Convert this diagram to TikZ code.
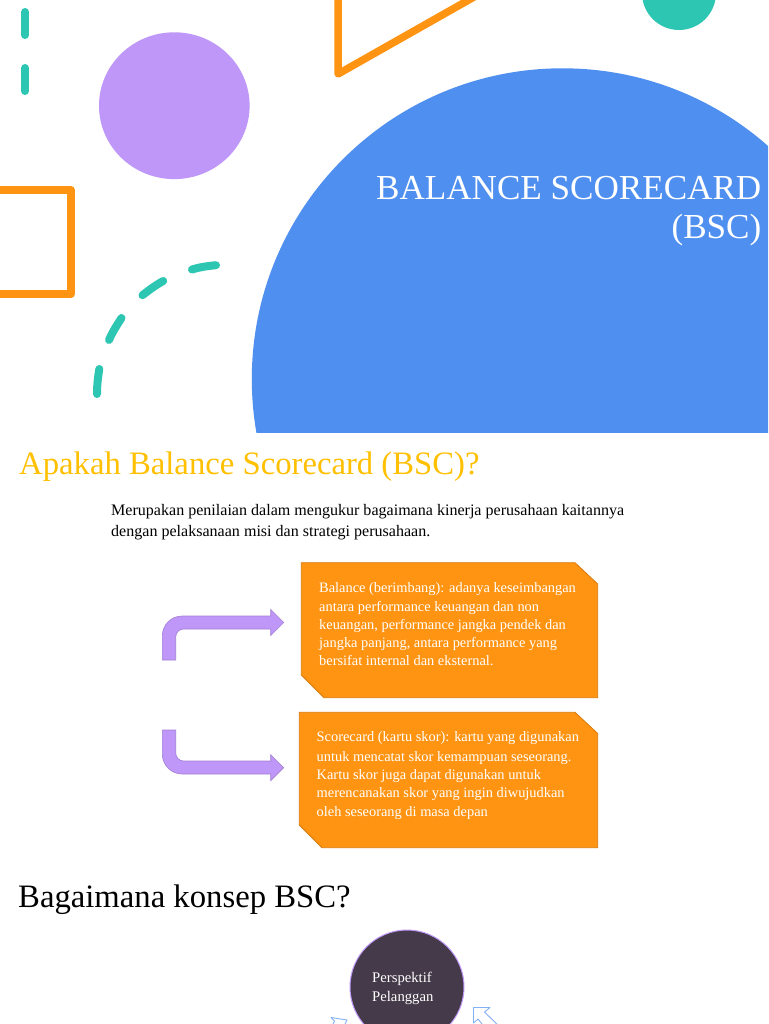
\documentclass[tikz,border=0pt]{standalone}
\usepackage{fontspec}
\setmainfont{Liberation Serif}
\definecolor{teal1}{HTML}{2CC6B2}
\definecolor{orange1}{HTML}{FF9412}
\definecolor{purple1}{HTML}{BF97F8}
\definecolor{blue1}{HTML}{4F8FF0}
\definecolor{dark1}{HTML}{453A49}
\definecolor{gold1}{HTML}{FFC000}
\definecolor{edge1}{HTML}{D9790A}
\tikzset{
  tealdash/.style={draw=teal1,line width=8pt,line cap=round},
  orangeline/.style={draw=orange1,line width=7.5pt,line join=round},
  purplearrow/.style={fill=purple1,draw=purple1!85!black,line width=.6pt},
  orangebox/.style={fill=orange1,draw=edge1,line width=.8pt},
  linetext/.style={anchor=base west,inner sep=0pt},
  boxtext/.style={linetext,text=white,font=\fontsize{14.4}{18}\selectfont},
  introtext/.style={linetext,font=\fontsize{16.05}{20}\selectfont},
  titletext/.style={anchor=base east,inner sep=0pt,text=white,font=\fontsize{35.1}{40}\selectfont},
  headtext/.style={linetext,font=\fontsize{32.7}{38}\selectfont},
  circletext/.style={linetext,text=white,font=\fontsize{14.7}{18}\selectfont},
  bluearrow/.style={draw=blue1!70!white,line width=.9pt,fill=white,line join=round},
}
\begin{document}
\begin{tikzpicture}[x=1pt,y=-1pt]
\useasboundingbox (0,0) rectangle (768,1024);
\fill[white] (0,0) rectangle (768,1024);
\begin{scope}
\clip (0,0) rectangle (768,432);
\fill[blue1] (562.5,379) circle[radius=310.7];
\fill[teal1] (679,-7) circle[radius=37];
\fill[purple1] (174.3,105.7) ellipse[x radius=75.3,y radius=73.4];
\draw[orangeline] (338,-5) -- (338,74) -- (477.5,-5);
\draw[orangeline] (-6,190) -- (71,190) -- (71,294) -- (-6,294);
\draw[tealdash] (25,12) -- (25,35);
\draw[tealdash] (25,68) -- (25,91);
\draw[tealdash] (192,269.5) .. controls (200,267) and (208,266) .. (216,265.2);
\draw[tealdash] (142.5,295.2) .. controls (149,290) and (156,285) .. (163.2,281);
\draw[tealdash] (109,340) .. controls (112.5,332) and (117,325) .. (121.5,318);
\draw[tealdash] (97,394) .. controls (97,385) and (98,377) .. (99.3,369);
\end{scope}
\node[titletext] (t1) at (761.5,200) {BALANCE SCORECARD};
\node[titletext] (t2) at (761.5,238) {(BSC)};
\node[headtext,text=gold1] (h1) at (19,474) {Apakah Balance Scorecard (BSC)?};
\node[introtext] (i1) at (111,515) {Merupakan penilaian dalam mengukur bagaimana kinerja perusahaan kaitannya};
\node[introtext] (i2) at (111,536) {dengan pelaksanaan misi dan strategi perusahaan.};
\draw[purplearrow] (162.3,660) -- (162.3,636) .. controls (162.3,625) and (171,616) .. (182.3,616) -- (270.7,616) -- (270.7,609.5) -- (283.7,622.5) -- (270.7,635.5) -- (270.7,629) -- (183.7,629) .. controls (179.3,629) and (175.7,632.6) .. (175.7,637) -- (175.7,660) -- cycle;
\draw[purplearrow] (162.3,730) -- (162.3,754) .. controls (162.3,765) and (171,774) .. (182.3,774) -- (270.7,774) -- (270.7,780.7) -- (283.7,767.7) -- (270.7,754.7) -- (270.7,761) -- (183.7,761) .. controls (179.3,761) and (175.7,757.4) .. (175.7,753) -- (175.7,730) -- cycle;
\draw[orangebox] (301.3,562.7) -- (575,562.7) -- (597.7,584) -- (597.7,697.7) -- (324,697.7) -- (301.3,675) -- cycle;
\draw[orangebox] (299.3,712.3) -- (575,712.3) -- (597.7,733.5) -- (597.7,847.7) -- (322,847.7) -- (299.3,825) -- cycle;
\node[boxtext] (a1) at (319,592) {Balance (berimbang): adanya keseimbangan};
\node[boxtext] (a2) at (319,611) {antara performance keuangan dan non};
\node[boxtext] (a3) at (319,629) {keuangan, performance jangka pendek dan};
\node[boxtext] (a4) at (319,647) {jangka panjang, antara performance yang};
\node[boxtext] (a5) at (319,665.5) {bersifat internal dan eksternal.};
\node[boxtext] (b1) at (316.5,741.5) {Scorecard (kartu skor): kartu yang digunakan};
\node[boxtext] (b2) at (316.5,761) {untuk mencatat skor kemampuan seseorang.};
\node[boxtext] (b3) at (316.5,779) {Kartu skor juga dapat digunakan untuk};
\node[boxtext] (b4) at (316.5,797) {merencanakan skor yang ingin diwujudkan};
\node[boxtext] (b5) at (316.5,816) {oleh seseorang di masa depan};
\node[headtext] (h2) at (18,907) {Bagaimana konsep BSC?};
\begin{scope}
\clip (0,900) rectangle (768,1024);
\fill[dark1,draw=purple1,line width=1pt] (407,987) circle[radius=57];
\draw[bluearrow] (473.5,1007.5) -- (490,1007.5) -- (484.5,1012) -- (505,1032) -- (495,1040) -- (478,1019) -- (473.5,1023) -- cycle;
\draw[bluearrow] (331,1017.5) -- (347,1020) -- (344,1026) -- (344,1040) -- (325,1040) -- (332,1026) -- (334.5,1021) -- cycle;
\end{scope}
\node[circletext] (c1) at (372,982) {Perspektif};
\node[circletext] (c2) at (372,1001) {Pelanggan};
\end{tikzpicture}
\end{document}
